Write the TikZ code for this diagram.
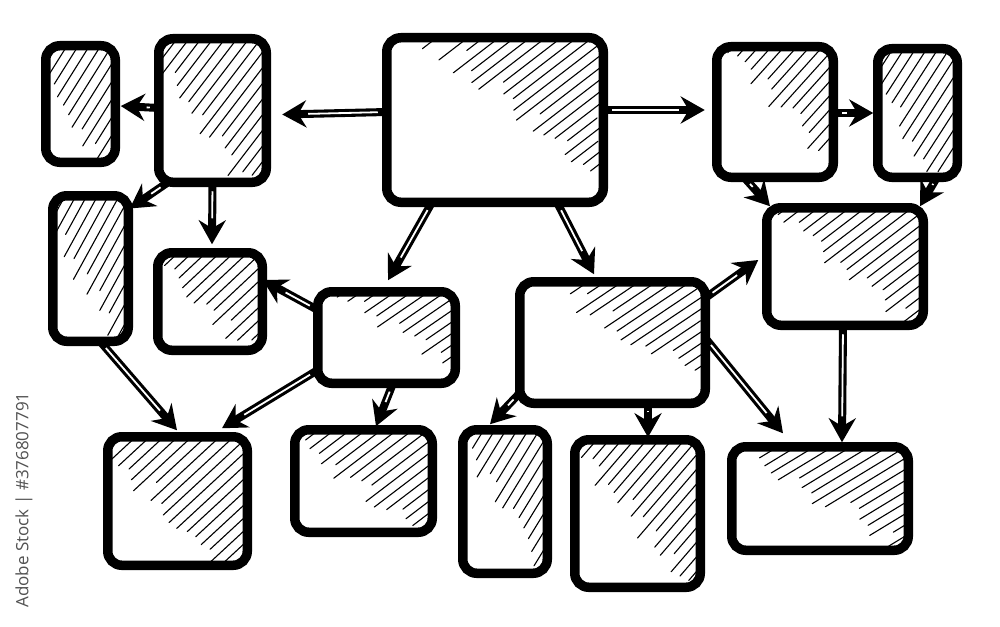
\documentclass[tikz,border=0pt]{standalone}
\usepackage{fontspec}
\newfontfamily\wmfont{Open Sans}
\usetikzlibrary{arrows.meta,calc}
\tikzset{
  box/.style={draw=black, line width=9.5pt, rounded corners=14pt, inner sep=0pt, outer sep=0pt, rectangle},
  hatch/.style={black, line width=1.1pt, line cap=round},
  arr/.style={black, line width=8pt, -{Stealth[length=24pt,width=27pt,inset=8pt]}},
  hl/.style={white, line width=1.8pt, shorten >=26pt, shorten <=9pt},
}
\newcommand{\mkbox}[6]{%
  \begin{scope}
    \clip[rounded corners=14pt] (#2+4.5,#3+4.5) rectangle (#4-4.5,#5-4.5);
    \pgfmathsetmacro{\hxw}{#4-#2}
    \pgfmathsetmacro{\hxh}{#5-#3}
    \pgfmathsetmacro{\hxdel}{9.5*veclen(\hxw,\hxh)/\hxw/\hxh}
    \pgfmathsetmacro{\hxn}{int(2*(2-#6)/\hxdel)}
    \foreach \k in {1,...,\hxn}{
      \pgfmathsetmacro{\hxd}{-(2-#6)+\k*\hxdel}
      \pgfmathsetmacro{\hxt}{#6+0.24*(rnd-0.5)}
      \pgfmathsetmacro{\hxe}{0.05*rnd}
      \pgfmathsetmacro{\hxus}{(\hxt+\hxd)/2}
      \pgfmathsetmacro{\hxvs}{(\hxt-\hxd)/2}
      \pgfmathsetmacro{\hxue}{\hxd>=0 ? 1-\hxe : 1+\hxd-\hxe}
      \pgfmathsetmacro{\hxve}{\hxd>=0 ? 1-\hxd-\hxe : 1-\hxe}
      \draw[hatch] (#2+\hxus*\hxw, #5-\hxvs*\hxh) -- (#2+\hxue*\hxw, #5-\hxve*\hxh);
    }
  \end{scope}
  \node[box, minimum width=#4-#2-9.5, minimum height=#5-#3-9.5] (#1) at ({(#2+#4)/2},{(#3+#5)/2}) {};
}
\newcommand{\arw}[2]{%
  \draw[arr] #1 -- #2;
  \draw[hl] #1 -- #2;
}
\begin{document}
\begin{tikzpicture}[x=1pt,y=-1pt]
\pgfmathsetseed{7}
\fill[white] (0,0) rectangle (1000,626);
\useasboundingbox (0,0) rectangle (1000,626);

\mkbox{b1}{41}{41}{120}{167}{0.8}
\mkbox{b2}{154}{34}{271}{187}{0.82}
\mkbox{b3}{382}{33}{608}{207}{1.2}
\mkbox{b4}{712}{42}{838}{182}{1.1}
\mkbox{b5}{873}{44}{962}{182}{0.75}
\mkbox{b6}{48}{191}{133}{346}{0.85}
\mkbox{b7}{153}{248}{267}{355}{0.9}
\mkbox{b8}{313}{287}{460}{388}{1.15}
\mkbox{b9}{515}{277}{710}{408}{1.15}
\mkbox{b10}{762}{203}{928}{330}{1.0}
\mkbox{b11}{103}{432}{252}{570}{0.88}
\mkbox{b12}{290}{425}{437}{537}{0.92}
\mkbox{b13}{458}{425}{552}{578}{0.95}
\mkbox{b14}{570}{435}{705}{592}{0.95}
\mkbox{b15}{727}{442}{913}{555}{1.02}

\arw{($(b3.west)+(0,-8)$)}{($(b2.east)+(16,4)$)}
\arw{($(b3.east)+(0,-10)$)}{($(b4.west)+(-12,-2)$)}
\arw{($(b2.west)+(0,-2.5)$)}{($(b1.east)+(5.5,2)$)}
\arw{($(b4.east)+(0,1)$)}{($(b5.west)+(-4.5,0)$)}
\arw{(b2.south)}{($(b7.north)+(2,-8.5)$)}
\arw{($(b2.south)+(-44.5,0)$)}{($(b6.east)+(1.5,-60)$)}
\arw{($(b3.south)+(-63,0)$)}{($(b8.north)+(1.5,-11.5)$)}
\arw{($(b3.south)+(62,0)$)}{($(b9.north)+(-18.5,-7.5)$)}
\arw{($(b8.west)+(0,-27.5)$)}{($(b7.east)+(0.5,-21.5)$)}
\arw{($(b6.south)+(9.5,0)$)}{($(b11.north)+(-0.5,-6.5)$)}
\arw{($(b8.west)+(0,32.5)$)}{($(b11.north)+(44.5,-8.5)$)}
\arw{($(b8.south)+(6.5,0)$)}{($(b12.north)+(12.5,-3.5)$)}
\arw{($(b9.west)+(0,50.5)$)}{($(b13.north)+(-15,-5.5)$)}
\arw{($(b9.south)+(35.5,0)$)}{($(b14.north)+(10.5,-2.5)$)}
\arw{($(b9.east)+(0,-4.5)$)}{($(b15.north)+(-37,-13.5)$)}
\arw{($(b9.east)+(0,-44.5)$)}{($(b10.west)+(-8.5,-6.5)$)}
\arw{($(b4.south)+(-31,0)$)}{($(b10.north)+(-75,-1.5)$)}
\arw{($(b5.south)+(19.5,0)$)}{($(b10.north)+(75,-1.5)$)}
\arw{($(b10.south)+(-2,0)$)}{($(b15.north)+(22,-4.5)$)}

\node[rotate=90, text=black!68, font=\wmfont\fontsize{17}{17}\selectfont, inner sep=0pt] (wm) at (24,500) {Adobe Stock | \#376807791};
\end{tikzpicture}
\end{document}
